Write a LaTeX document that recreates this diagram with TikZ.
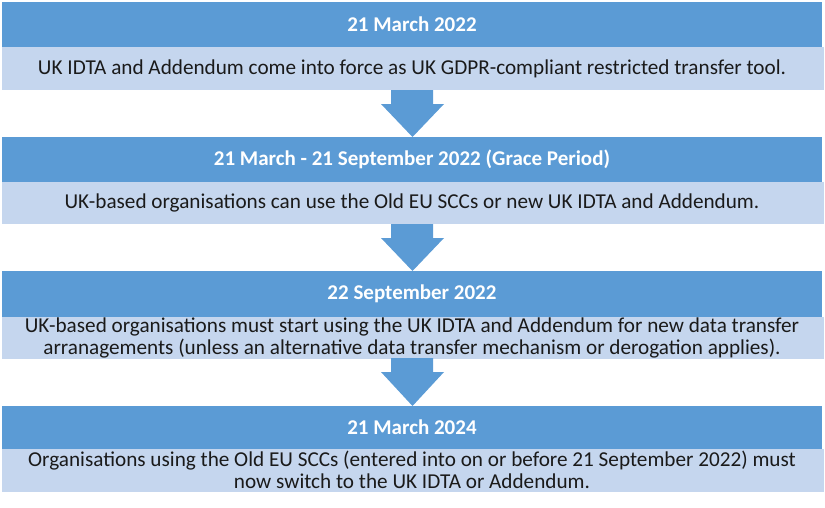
\documentclass[tikz,border=0pt]{standalone}
\usepackage{fontspec}
\setmainfont{Carlito}
\definecolor{hdr}{HTML}{5B9BD5}
\definecolor{bdy}{HTML}{C5D6EE}
\definecolor{txt}{HTML}{1A1A1A}
\tikzset{
  x=1pt, y=-1pt,
  hdrbox/.style={fill=hdr, draw=none},
  bdybox/.style={fill=bdy, draw=none},
  hdrtext/.style={text=white, font=\fontsize{21}{22}\selectfont\bfseries, align=center, inner sep=0},
  bdytext/.style={text=txt, font=\fontsize{21.2}{21.5}\selectfont, align=center, inner sep=0},
  downarrow/.style={fill=hdr, draw=none},
}
\begin{document}
\begin{tikzpicture}
\useasboundingbox (0,0) rectangle (825,507);
% block 1
\path[hdrbox] (2,2) rectangle (822,47);
\path[bdybox] (2,47) rectangle (824,90);
\node[hdrtext] (h1) at (412,24) {21 March 2022};
\node[bdytext] (b1) at (412,69) {UK IDTA and Addendum come into force as UK GDPR-compliant restricted transfer tool.};
% block 2
\path[hdrbox] (2,137) rectangle (822,182);
\path[bdybox] (2,182) rectangle (824,224);
\node[hdrtext] (h2) at (412,159) {21 March - 21 September 2022 (Grace Period)};
\node[bdytext] (b2) at (412,203) {UK-based organisations can use the Old EU SCCs or new UK IDTA and Addendum.};
% block 3
\path[hdrbox] (2,271) rectangle (822,317);
\path[bdybox] (2,317) rectangle (824,359);
\node[hdrtext] (h3) at (412,294) {22 September 2022};
\node[bdytext] (b3) at (412,338) {UK-based organisations must start using the UK IDTA and Addendum for new data transfer\\arranagements (unless an alternative data transfer mechanism or derogation applies).};
% block 4
\path[hdrbox] (2,406) rectangle (822,449);
\path[bdybox] (2,449) rectangle (824,492);
\node[hdrtext] (h4) at (412,427) {21 March 2024};
\node[bdytext] (b4) at (412,470) {Organisations using the Old EU SCCs (entered into on or before 21 September 2022) must\\now switch to the UK IDTA or Addendum.};
% arrows
\foreach \t/\tip in {90/137, 224/271, 358/406}{
  \path[downarrow] (391,\t) -- (433,\t) -- (433,\t+14) -- (444,\t+14) -- (412.5,\tip) -- (381,\t+14) -- (391,\t+14) -- cycle;
}
\end{tikzpicture}
\end{document}
